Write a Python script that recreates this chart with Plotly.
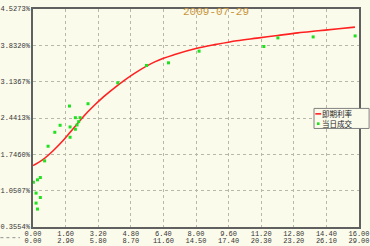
import plotly.graph_objects as go

# Spot-rate curve (即期利率)
curve_x = [0, 0.5, 1, 1.5, 2, 2.5, 3, 3.5, 4, 5, 6, 7, 8, 9, 10, 11, 12, 13, 14, 15, 15.8]
curve_y = [1.53, 1.65, 1.82, 2.02, 2.25, 2.48, 2.68, 2.86, 3.02, 3.30, 3.52, 3.66, 3.77,
           3.85, 3.92, 3.97, 4.02, 4.07, 4.11, 4.15, 4.18]

# Same-day trades (当日成交)
trade_x = [0.02, 0.22, 0.36, 0.57, 0.15, 0.36, 0.15, 0.22, 0.74, 1.07, 1.33, 1.79, 1.82,
           1.82, 2.08, 2.08, 2.16, 2.24, 2.31, 2.70, 4.16, 5.57, 6.65, 8.15, 11.33, 12.02,
           13.75, 15.81]
trade_y = [1.214, 1.258, 1.302, 1.621, 1.004, 0.920, 0.813, 0.699, 1.901, 2.168, 2.302,
           2.670, 2.270, 2.073, 2.447, 2.226, 2.308, 2.371, 2.447, 2.714, 3.115, 3.447,
           3.497, 3.720, 3.810, 3.974, 3.993, 4.012]

y_ticks = [0.3554, 1.0507, 1.7460, 2.4413, 3.1367, 3.8320, 4.5273]
y_labels = ["0.3554%", "1.0507%", "1.7460%", "2.4413%", "3.1367%", "3.8320%", "4.5273%"]
x_ticks = [0, 1.6, 3.2, 4.8, 6.4, 8.0, 9.6, 11.2, 12.8, 14.4, 16.0]
x_labels_top = ["0.00", "1.60", "3.20", "4.80", "6.40", "8.00", "9.60", "11.20", "12.80", "14.40", "16.00"]
x_labels_bottom = ["0.00", "2.90", "5.80", "8.70", "11.60", "14.50", "17.40", "20.30", "23.20", "26.10", "29.00"]

title_text = "2009-07-29"
name_curve = "即期利率"
name_trade = "当日成交"

BG = "#fbfbec"
tickfont = dict(family="Liberation Mono", size=7, color="#333333")
legfont = dict(family="Noto Sans CJK SC", size=7.5, color="#222222")

fig = go.Figure()
fig.add_trace(go.Scatter(x=curve_x, y=curve_y, mode="lines", name=name_curve,
                         line=dict(color="#ff2020", width=1.6, shape="spline")))
fig.add_trace(go.Scatter(x=trade_x, y=trade_y, mode="markers", name=name_trade,
                         xaxis="x2", yaxis="y",
                         marker=dict(color="#20e020", size=3, symbol="square")))

fig.update_layout(
    width=370, height=246,
    margin=dict(l=33, r=11, t=9, b=19),
    paper_bgcolor=BG, plot_bgcolor=BG,
    showlegend=False,
    annotations=[
        dict(text=title_text, xref="paper", yref="paper", x=0.56, y=0.985,
             xanchor="center", yanchor="middle", showarrow=False,
             font=dict(family="Liberation Mono", size=11, color="#c8963c")),
        dict(text=name_curve + "<br>" + name_trade, xref="paper", yref="paper",
             x=0.884, y=0.497, xanchor="left", yanchor="middle", showarrow=False,
             align="left", font=legfont, borderpad=0),
    ],
    shapes=[
        dict(type="line", xref="paper", yref="paper", x0=-0.10, x1=-0.04,
             y0=-0.049, y1=-0.049, line=dict(color="#909090", width=1, dash="dot")),
        # legend box
        dict(type="rect", xref="paper", yref="paper", x0=0.862, x1=1.031,
             y0=0.452, y1=0.544, fillcolor=BG, line=dict(color="#808080", width=1),
             layer="above"),
        dict(type="line", xref="paper", yref="paper", x0=0.866, x1=0.884,
             y0=0.519, y1=0.519, line=dict(color="#ff2020", width=1.6), layer="above"),
        dict(type="rect", xref="paper", yref="paper", x0=0.871, x1=0.879,
             y0=0.468, y1=0.480, fillcolor="#20e020", line=dict(width=0), layer="above"),
    ],
    xaxis=dict(range=[0, 16], tickvals=x_ticks, ticktext=x_labels_top,
               showgrid=True, gridcolor="#b8b8a8", griddash="dot", gridwidth=1,
               showline=True, linecolor="#606060", linewidth=1.5, mirror=True,
               zeroline=False, ticks="", tickfont=tickfont, automargin=False,
               ticklabeloverflow="allow", ticklabelstandoff=-1),
    xaxis2=dict(overlaying="x", anchor="y", side="bottom", range=[0, 16],
                tickvals=x_ticks, ticktext=x_labels_bottom, showgrid=False,
                showline=False, zeroline=False, ticks="", tickfont=tickfont,
                automargin=False, ticklabeloverflow="allow", ticklabelstandoff=8),
    yaxis=dict(range=[0.3554, 4.5273], tickvals=y_ticks, ticktext=y_labels,
               showgrid=True, gridcolor="#b8b8a8", griddash="dot", gridwidth=1,
               showline=True, linecolor="#606060", linewidth=1.5, mirror=True,
               zeroline=False, ticks="", tickfont=tickfont, automargin=False,
               ticklabeloverflow="allow"),
)

fig.write_html("out.html")
